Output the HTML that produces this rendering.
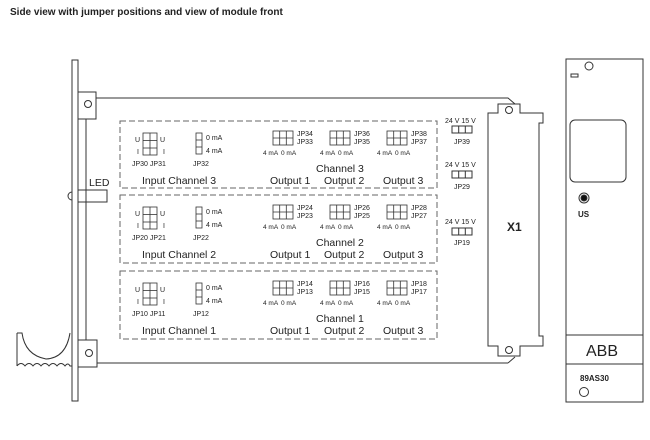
<!DOCTYPE html>
<html><head><meta charset="utf-8"><style>
html,body{margin:0;padding:0;background:#fff;width:650px;height:440px;overflow:hidden}
svg{display:block}
text{font-family:"Liberation Sans",Arial,sans-serif;fill:#222}
</style></head><body>
<svg width="650" height="440" viewBox="0 0 650 440" xmlns="http://www.w3.org/2000/svg">
<defs>
<g id="ch" fill="none" stroke="#444" stroke-width="0.8">
  <g stroke="#333">
    <rect x="143" y="133" width="14" height="22"/>
    <line x1="150" y1="133" x2="150" y2="155"/>
    <line x1="143" y1="140.5" x2="157" y2="140.5"/>
    <line x1="143" y1="148" x2="157" y2="148"/>
    <rect x="196" y="133" width="6" height="21"/>
    <line x1="196" y1="140" x2="202" y2="140"/>
    <line x1="196" y1="147" x2="202" y2="147"/>
    <rect x="273" y="131" width="20" height="14"/><line x1="279.7" y1="131" x2="279.7" y2="145"/><line x1="286.3" y1="131" x2="286.3" y2="145"/><line x1="273" y1="138" x2="293" y2="138"/>
    <rect x="330" y="131" width="20" height="14"/><line x1="336.7" y1="131" x2="336.7" y2="145"/><line x1="343.3" y1="131" x2="343.3" y2="145"/><line x1="330" y1="138" x2="350" y2="138"/>
    <rect x="387" y="131" width="20" height="14"/><line x1="393.7" y1="131" x2="393.7" y2="145"/><line x1="400.3" y1="131" x2="400.3" y2="145"/><line x1="387" y1="138" x2="407" y2="138"/>
  </g>
  <g stroke="none" font-size="7">
    <text x="135" y="142">U</text><text x="160" y="142">U</text>
    <text x="137" y="154">I</text><text x="163" y="154">I</text>
    <text x="206" y="140">0 mA</text><text x="206" y="153">4 mA</text>
  </g>
  <g stroke="none" font-size="6.5">
    <text x="263" y="155">4 mA</text><text x="281" y="155">0 mA</text>
    <text x="320" y="155">4 mA</text><text x="338" y="155">0 mA</text>
    <text x="377" y="155">4 mA</text><text x="395" y="155">0 mA</text>
  </g>
</g>
</defs>

<text x="10" y="15" font-size="10" font-weight="bold">Side view with jumper positions and view of module front</text>

<g fill="none" stroke="#333" stroke-width="1">
  <rect x="72" y="60" width="6" height="341"/>
  <line x1="86" y1="119" x2="86" y2="340"/>
  <rect x="78" y="92" width="18" height="27"/>
  <circle cx="88" cy="104" r="3.5"/>
  <rect x="78" y="340" width="19" height="27"/>
  <circle cx="89" cy="353" r="3.5"/>
  <rect x="78" y="190" width="29" height="12"/>
  <path d="M72 192 A4 4 0 0 0 72 200"/>
  <polyline points="96,98 508,98 515,104"/>
  <line x1="97" y1="363" x2="508" y2="363"/>
  <polyline points="508,363 515,357"/>
  <path d="M17 333 L22 333 Q25 355 46 359 Q66 358 70 333"/>
  <path d="M17 333 L17 366"/>
  <path d="M17 366 q4 -5 8 0 q4 -5 8 0 q4 -5 8 0 q4 -5 8 0 q4 -5 8 0 q4 -5 8 0 q3 -4 5 0 L72 366"/>
  <path d="M498 113 L498 104 L520 104 L520 113 L543 113 L543 123 L539 123 L539 336 L543 336 L543 346 L520 346 L520 356 L498 356 L498 346 L488 346 L488 113 Z"/>
  <circle cx="509" cy="110" r="3.5"/>
  <circle cx="509" cy="350" r="3.5"/>
  <g stroke="#666" stroke-dasharray="6,3">
    <rect x="120" y="121" width="317" height="67"/>
    <rect x="120" y="195" width="317" height="68"/>
    <rect x="120" y="271" width="317" height="68"/>
  </g>
  <g stroke="#333">
    <rect x="452" y="126" width="20" height="7"/><line x1="458.7" y1="126" x2="458.7" y2="133"/><line x1="465.3" y1="126" x2="465.3" y2="133"/>
    <rect x="452" y="171" width="20" height="7"/><line x1="458.7" y1="171" x2="458.7" y2="178"/><line x1="465.3" y1="171" x2="465.3" y2="178"/>
    <rect x="452" y="228" width="20" height="7"/><line x1="458.7" y1="228" x2="458.7" y2="235"/><line x1="465.3" y1="228" x2="465.3" y2="235"/>
  </g>
  <rect x="566" y="59" width="77" height="343"/>
  <rect x="570" y="120" width="56" height="62" rx="5"/>
  <circle cx="589" cy="66" r="4"/>
  <rect x="571" y="74" width="7" height="3"/>
  <circle cx="584" cy="198" r="5"/>
  <circle cx="584" cy="198" r="3" fill="#111"/>
  <line x1="566" y1="335" x2="643" y2="335"/>
  <line x1="566" y1="364" x2="643" y2="364"/>
  <circle cx="584" cy="392" r="4.5"/>
</g>

<use href="#ch"/>
<use href="#ch" y="74"/>
<use href="#ch" y="150"/>

<g font-size="7">
  <text x="132" y="166">JP30 JP31</text><text x="193" y="166">JP32</text>
  <text x="132" y="240">JP20 JP21</text><text x="193" y="240">JP22</text>
  <text x="132" y="316">JP10 JP11</text><text x="193" y="316">JP12</text>
  <text x="297" y="136">JP34</text><text x="297" y="144">JP33</text>
  <text x="354" y="136">JP36</text><text x="354" y="144">JP35</text>
  <text x="411" y="136">JP38</text><text x="411" y="144">JP37</text>
  <text x="297" y="210">JP24</text><text x="297" y="218">JP23</text>
  <text x="354" y="210">JP26</text><text x="354" y="218">JP25</text>
  <text x="411" y="210">JP28</text><text x="411" y="218">JP27</text>
  <text x="297" y="286">JP14</text><text x="297" y="294">JP13</text>
  <text x="354" y="286">JP16</text><text x="354" y="294">JP15</text>
  <text x="411" y="286">JP18</text><text x="411" y="294">JP17</text>
  <text x="445" y="123">24 V  15 V</text><text x="454" y="144">JP39</text>
  <text x="445" y="167">24 V  15 V</text><text x="454" y="189">JP29</text>
  <text x="445" y="224">24 V  15 V</text><text x="454" y="245">JP19</text>
</g>
<g font-size="10.5">
  <text x="142" y="184">Input Channel 3</text>
  <text x="316" y="172">Channel 3</text>
  <text x="270" y="184">Output 1</text><text x="324" y="184">Output 2</text><text x="383" y="184">Output 3</text>
  <text x="142" y="258">Input Channel 2</text>
  <text x="316" y="246">Channel 2</text>
  <text x="270" y="258">Output 1</text><text x="324" y="258">Output 2</text><text x="383" y="258">Output 3</text>
  <text x="142" y="334">Input Channel 1</text>
  <text x="316" y="322">Channel 1</text>
  <text x="270" y="334">Output 1</text><text x="324" y="334">Output 2</text><text x="383" y="334">Output 3</text>
  <text x="89" y="186">LED</text>
</g>
<text x="507" y="231" font-size="12" font-weight="bold">X1</text>
<text x="578" y="217" font-size="8" font-weight="bold">US</text>
<text x="586" y="356" font-size="16">ABB</text>
<text x="580" y="381" font-size="8" font-weight="bold">89AS30</text>
</svg>
</body></html>
